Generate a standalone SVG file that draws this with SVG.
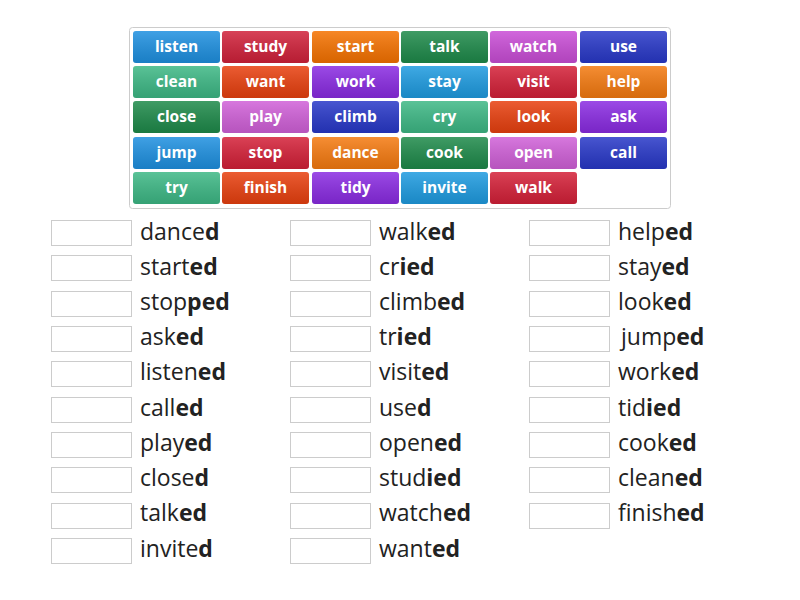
<svg xmlns="http://www.w3.org/2000/svg" width="800" height="600" viewBox="0 0 800 600">
<defs>
<linearGradient id="sh" x1="0" y1="0" x2="0" y2="1"><stop offset="0" stop-color="#fff" stop-opacity="0.15"/><stop offset="1" stop-color="#000" stop-opacity="0.12"/></linearGradient>
</defs>
<style>
.t{font-family:"Open Sans","Noto Sans",sans-serif;font-weight:bold;font-size:15.500px;fill:#fff;text-anchor:middle}
.w{font-family:"Open Sans","Noto Sans",sans-serif;font-size:23px;fill:#222}
.w tspan{font-weight:bold}
.b{fill:#fff;stroke:#ccc;stroke-width:1}
.s{fill:url(#sh)}
</style>
<rect width="800" height="600" fill="#fff"/>
<rect x="129.500" y="27.500" width="541" height="181" rx="3" fill="#fff" stroke="#ccc"/>
<g id="tiles">
<g id="t-listen"><rect x="133" y="31" width="87" height="32" rx="3" fill="#1e90e0"/><rect class="s" x="133" y="31" width="87" height="32" rx="3"/><text class="t" x="176.500" y="52">listen</text></g>
<g id="t-study"><rect x="222" y="31" width="87" height="32" rx="3" fill="#d0213a"/><rect class="s" x="222" y="31" width="87" height="32" rx="3"/><text class="t" x="265.500" y="52">study</text></g>
<g id="t-start"><rect x="312" y="31" width="87" height="32" rx="3" fill="#f57200"/><rect class="s" x="312" y="31" width="87" height="32" rx="3"/><text class="t" x="355.500" y="52">start</text></g>
<g id="t-talk"><rect x="401" y="31" width="87" height="32" rx="3" fill="#1e8a4a"/><rect class="s" x="401" y="31" width="87" height="32" rx="3"/><text class="t" x="444.500" y="52">talk</text></g>
<g id="t-watch"><rect x="490" y="31" width="87" height="32" rx="3" fill="#c94dd6"/><rect class="s" x="490" y="31" width="87" height="32" rx="3"/><text class="t" x="533.500" y="52">watch</text></g>
<g id="t-use"><rect x="580" y="31" width="87" height="32" rx="3" fill="#2838c8"/><rect class="s" x="580" y="31" width="87" height="32" rx="3"/><text class="t" x="623.500" y="52">use</text></g>

<g id="t-clean"><rect x="133" y="66" width="87" height="32" rx="3" fill="#3db885"/><rect class="s" x="133" y="66" width="87" height="32" rx="3"/><text class="t" x="176.500" y="87">clean</text></g>
<g id="t-want"><rect x="222" y="66" width="87" height="32" rx="3" fill="#e8400f"/><rect class="s" x="222" y="66" width="87" height="32" rx="3"/><text class="t" x="265.500" y="87">want</text></g>
<g id="t-work"><rect x="312" y="66" width="87" height="32" rx="3" fill="#8a2be2"/><rect class="s" x="312" y="66" width="87" height="32" rx="3"/><text class="t" x="355.500" y="87">work</text></g>
<g id="t-stay"><rect x="401" y="66" width="87" height="32" rx="3" fill="#1e9be0"/><rect class="s" x="401" y="66" width="87" height="32" rx="3"/><text class="t" x="444.500" y="87">stay</text></g>
<g id="t-visit"><rect x="490" y="66" width="87" height="32" rx="3" fill="#d42038"/><rect class="s" x="490" y="66" width="87" height="32" rx="3"/><text class="t" x="533.500" y="87">visit</text></g>
<g id="t-help"><rect x="580" y="66" width="87" height="32" rx="3" fill="#f47a10"/><rect class="s" x="580" y="66" width="87" height="32" rx="3"/><text class="t" x="623.500" y="87">help</text></g>

<g id="t-close"><rect x="133" y="101" width="87" height="32" rx="3" fill="#1e8a4a"/><rect class="s" x="133" y="101" width="87" height="32" rx="3"/><text class="t" x="176.500" y="122">close</text></g>
<g id="t-play"><rect x="222" y="101" width="87" height="32" rx="3" fill="#d060d8"/><rect class="s" x="222" y="101" width="87" height="32" rx="3"/><text class="t" x="265.500" y="122">play</text></g>
<g id="t-climb"><rect x="312" y="101" width="87" height="32" rx="3" fill="#2838c8"/><rect class="s" x="312" y="101" width="87" height="32" rx="3"/><text class="t" x="355.500" y="122">climb</text></g>
<g id="t-cry"><rect x="401" y="101" width="87" height="32" rx="3" fill="#3db885"/><rect class="s" x="401" y="101" width="87" height="32" rx="3"/><text class="t" x="444.500" y="122">cry</text></g>
<g id="t-look"><rect x="490" y="101" width="87" height="32" rx="3" fill="#e8400f"/><rect class="s" x="490" y="101" width="87" height="32" rx="3"/><text class="t" x="533.500" y="122">look</text></g>
<g id="t-ask"><rect x="580" y="101" width="87" height="32" rx="3" fill="#8a2be2"/><rect class="s" x="580" y="101" width="87" height="32" rx="3"/><text class="t" x="623.500" y="122">ask</text></g>

<g id="t-jump"><rect x="133" y="137" width="87" height="32" rx="3" fill="#1e90e0"/><rect class="s" x="133" y="137" width="87" height="32" rx="3"/><text class="t" x="176.500" y="158">jump</text></g>
<g id="t-stop"><rect x="222" y="137" width="87" height="32" rx="3" fill="#d42038"/><rect class="s" x="222" y="137" width="87" height="32" rx="3"/><text class="t" x="265.500" y="158">stop</text></g>
<g id="t-dance"><rect x="312" y="137" width="87" height="32" rx="3" fill="#f57a10"/><rect class="s" x="312" y="137" width="87" height="32" rx="3"/><text class="t" x="355.500" y="158">dance</text></g>
<g id="t-cook"><rect x="401" y="137" width="87" height="32" rx="3" fill="#1e8a4a"/><rect class="s" x="401" y="137" width="87" height="32" rx="3"/><text class="t" x="444.500" y="158">cook</text></g>
<g id="t-open"><rect x="490" y="137" width="87" height="32" rx="3" fill="#d060d8"/><rect class="s" x="490" y="137" width="87" height="32" rx="3"/><text class="t" x="533.500" y="158">open</text></g>
<g id="t-call"><rect x="580" y="137" width="87" height="32" rx="3" fill="#2838c8"/><rect class="s" x="580" y="137" width="87" height="32" rx="3"/><text class="t" x="623.500" y="158">call</text></g>

<g id="t-try"><rect x="133" y="172" width="87" height="32" rx="3" fill="#3db885"/><rect class="s" x="133" y="172" width="87" height="32" rx="3"/><text class="t" x="176.500" y="193">try</text></g>
<g id="t-finish"><rect x="222" y="172" width="87" height="32" rx="3" fill="#e8400f"/><rect class="s" x="222" y="172" width="87" height="32" rx="3"/><text class="t" x="265.500" y="193">finish</text></g>
<g id="t-tidy"><rect x="312" y="172" width="87" height="32" rx="3" fill="#8a2be2"/><rect class="s" x="312" y="172" width="87" height="32" rx="3"/><text class="t" x="355.500" y="193">tidy</text></g>
<g id="t-invite"><rect x="401" y="172" width="87" height="32" rx="3" fill="#1e9be0"/><rect class="s" x="401" y="172" width="87" height="32" rx="3"/><text class="t" x="444.500" y="193">invite</text></g>
<g id="t-walk"><rect x="490" y="172" width="87" height="32" rx="3" fill="#d42038"/><rect class="s" x="490" y="172" width="87" height="32" rx="3"/><text class="t" x="533.500" y="193">walk</text></g>
</g>
<g id="connectors"/>
<g id="answers">
<g id="c1">
<rect class="b" x="51.500" y="220.500" width="80" height="25"/><text class="w" x="140" y="240">dance<tspan>d</tspan></text>
<rect class="b" x="51.500" y="255.500" width="80" height="25"/><text class="w" x="140" y="275">start<tspan>ed</tspan></text>
<rect class="b" x="51.500" y="291.500" width="80" height="25"/><text class="w" x="140" y="310">stop<tspan>ped</tspan></text>
<rect class="b" x="51.500" y="326.500" width="80" height="25"/><text class="w" x="140" y="345">ask<tspan>ed</tspan></text>
<rect class="b" x="51.500" y="361.500" width="80" height="25"/><text class="w" x="140" y="380">listen<tspan>ed</tspan></text>
<rect class="b" x="51.500" y="397.500" width="80" height="25"/><text class="w" x="140" y="416">call<tspan>ed</tspan></text>
<rect class="b" x="51.500" y="432.500" width="80" height="25"/><text class="w" x="140" y="451">play<tspan>ed</tspan></text>
<rect class="b" x="51.500" y="467.500" width="80" height="25"/><text class="w" x="140" y="486">close<tspan>d</tspan></text>
<rect class="b" x="51.500" y="503.500" width="80" height="25"/><text class="w" x="140" y="521">talk<tspan>ed</tspan></text>
<rect class="b" x="51.500" y="538.500" width="80" height="25"/><text class="w" x="140" y="557">invite<tspan>d</tspan></text>
</g>
<g id="c2">
<rect class="b" x="290.500" y="220.500" width="80" height="25"/><text class="w" x="379" y="240">walk<tspan>ed</tspan></text>
<rect class="b" x="290.500" y="255.500" width="80" height="25"/><text class="w" x="379" y="275">cr<tspan>ied</tspan></text>
<rect class="b" x="290.500" y="291.500" width="80" height="25"/><text class="w" x="379" y="310">climb<tspan>ed</tspan></text>
<rect class="b" x="290.500" y="326.500" width="80" height="25"/><text class="w" x="379" y="345">tr<tspan>ied</tspan></text>
<rect class="b" x="290.500" y="361.500" width="80" height="25"/><text class="w" x="379" y="380">visit<tspan>ed</tspan></text>
<rect class="b" x="290.500" y="397.500" width="80" height="25"/><text class="w" x="379" y="416">use<tspan>d</tspan></text>
<rect class="b" x="290.500" y="432.500" width="80" height="25"/><text class="w" x="379" y="451">open<tspan>ed</tspan></text>
<rect class="b" x="290.500" y="467.500" width="80" height="25"/><text class="w" x="379" y="486">stud<tspan>ied</tspan></text>
<rect class="b" x="290.500" y="503.500" width="80" height="25"/><text class="w" x="379" y="521">watch<tspan>ed</tspan></text>
<rect class="b" x="290.500" y="538.500" width="80" height="25"/><text class="w" x="379" y="557">want<tspan>ed</tspan></text>
</g>
<g id="c3">
<rect class="b" x="529.500" y="220.500" width="80" height="25"/><text class="w" x="618" y="240">help<tspan>ed</tspan></text>
<rect class="b" x="529.500" y="255.500" width="80" height="25"/><text class="w" x="618" y="275">stay<tspan>ed</tspan></text>
<rect class="b" x="529.500" y="291.500" width="80" height="25"/><text class="w" x="618" y="310">look<tspan>ed</tspan></text>
<rect class="b" x="529.500" y="326.500" width="80" height="25"/><text class="w" x="621" y="345">jump<tspan>ed</tspan></text>
<rect class="b" x="529.500" y="361.500" width="80" height="25"/><text class="w" x="618" y="380">work<tspan>ed</tspan></text>
<rect class="b" x="529.500" y="397.500" width="80" height="25"/><text class="w" x="618" y="416">tid<tspan>ied</tspan></text>
<rect class="b" x="529.500" y="432.500" width="80" height="25"/><text class="w" x="618" y="451">cook<tspan>ed</tspan></text>
<rect class="b" x="529.500" y="467.500" width="80" height="25"/><text class="w" x="618" y="486">clean<tspan>ed</tspan></text>
<rect class="b" x="529.500" y="503.500" width="80" height="25"/><text class="w" x="618" y="521">finish<tspan>ed</tspan></text>
</g>
</g>
</svg>
